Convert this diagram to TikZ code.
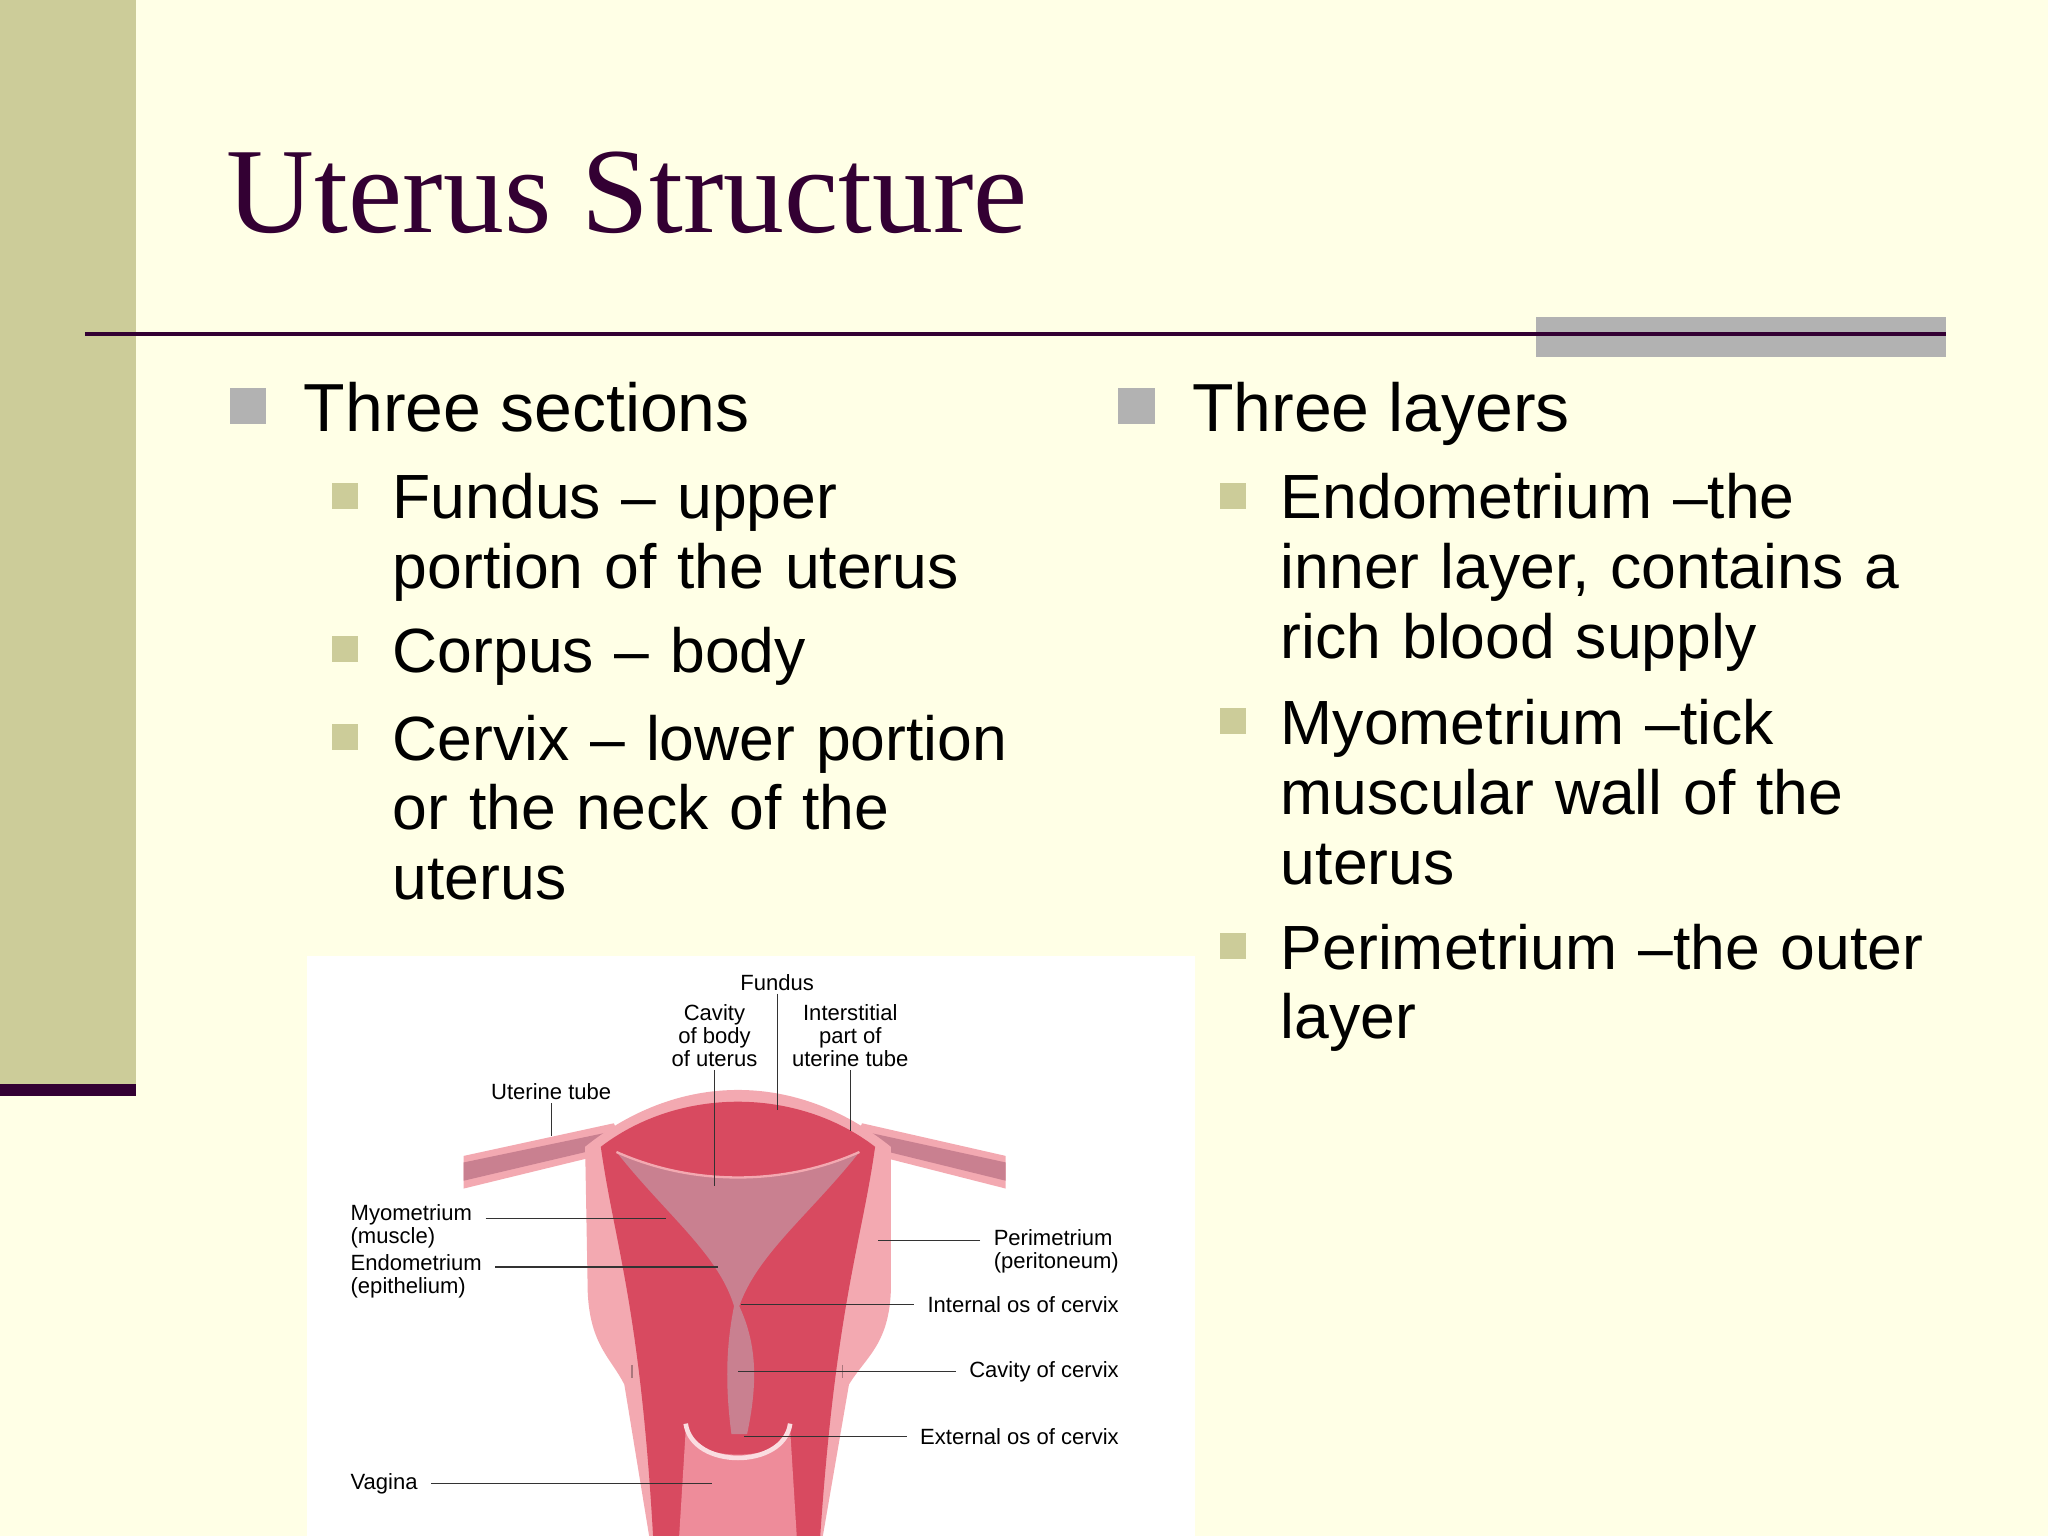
\documentclass[tikz,border=0pt]{standalone}
\usepackage{fontspec}
\setmainfont{Liberation Sans}
\newfontfamily\titlefont{Liberation Serif}
\definecolor{bg}{HTML}{FFFFE6}
\definecolor{olive}{HTML}{CCCC99}
\definecolor{plum}{HTML}{330033}
\definecolor{pgray}{HTML}{B2B2B2}
\definecolor{peri}{HTML}{F3A9B1}
\definecolor{myo}{HTML}{D84A60}
\definecolor{cav}{HTML}{C98090}
\definecolor{vag}{HTML}{EE8C9A}
\begin{document}
\begin{tikzpicture}[x=0.01cm,y=-0.01cm,
  big/.style={anchor=base west,font=\fontsize{14.8}{18}\selectfont,inner sep=0},
  sub/.style={anchor=base west,font=\fontsize{13.6}{15.2}\selectfont,inner sep=0,align=left,text width=5cm},
  lab/.style={font=\fontsize{4.8}{5}\selectfont,inner sep=0.5pt,align=center},
  ll/.style={draw=black!80,line width=0.25pt}]
\useasboundingbox (0,0) rectangle (1568,1176);
\fill[bg] (0,0) rectangle (1568,1176);
\fill[olive] (0,0) rectangle (104,834);
\fill[plum] (0,830) rectangle (104,839);
\fill[pgray] (1176,243) rectangle (1490,273);
\draw[plum,line width=0.9pt] (65,256) -- (1490,256);
\node[anchor=base west,inner sep=0,text=plum,font=\titlefont\fontsize{26.5}{30}\selectfont] (title) at (173,178) {Uterus Structure};
% left column
\fill[pgray] (176,297) rectangle (204,325);
\node[big] (t1) at (232,330) {Three sections};
\foreach \y in {370,487,554} \fill[olive] (254,\y) rectangle (274,\y+20);
\node[sub] (s1) at (300,397) {Fundus – upper\\portion of the uterus};
\node[sub] (s2) at (300,515) {Corpus – body};
\node[sub] (s3) at (300,582) {Cervix – lower portion\\or the neck of the\\uterus};
% right column
\fill[pgray] (856,297) rectangle (884,325);
\node[big] (t2) at (912,330) {Three layers};
\foreach \y in {370,542,714} \fill[olive] (934,\y) rectangle (954,\y+20);
\node[sub,text width=6cm] (r1) at (980,397) {Endometrium –the\\inner layer, contains a\\rich blood supply};
\node[sub,text width=6cm] (r2) at (980,570) {Myometrium –tick\\muscular wall of the\\uterus};
\node[sub,text width=6cm] (r3) at (980,742) {Perimetrium –the outer\\layer};
% diagram panel
\fill[white] (235,732) rectangle (915,1176);
% tubes
\fill[peri] (355,885) -- (470,860) -- (478,880) -- (355,910) -- cycle;
\fill[cav] (355,890) -- (470,866) -- (474,876) -- (355,904) -- cycle;
\fill[peri] (770,885) -- (660,860) -- (652,880) -- (770,910) -- cycle;
\fill[cav] (770,890) -- (660,866) -- (656,876) -- (770,904) -- cycle;
% outer body
\fill[peri] (448,878) .. controls (520,820) and (610,820) .. (682,878)
  -- (682,990) .. controls (680,1030) and (662,1040) .. (650,1060) -- (630,1176) -- (497,1176) -- (478,1060)
  .. controls (468,1040) and (452,1030) .. (450,990) -- cycle;
\draw[peri!70!black,line width=0.3pt] (484,1045) -- (484,1055) (645,1045) -- (645,1055);
% myometrium
\fill[myo] (460,878) .. controls (520,832) and (610,832) .. (670,878)
  .. controls (660,950) and (640,1000) .. (628,1176) -- (500,1176)
  .. controls (490,1000) and (470,950) .. cycle;
% cavity
\fill[cav] (472,882) .. controls (530,908) and (600,908) .. (658,882)
  .. controls (620,930) and (580,960) .. (566,1000)
  .. controls (580,1030) and (580,1060) .. (572,1098) -- (560,1098)
  .. controls (555,1060) and (556,1030) .. (562,1000)
  .. controls (550,960) and (510,930) .. cycle;
\draw[peri,line width=0.5pt] (472,882) .. controls (530,908) and (600,908) .. (658,882);
% vagina
\fill[vag] (525,1095) .. controls (530,1120) and (600,1120) .. (605,1095) -- (610,1176) -- (520,1176) -- cycle;
\draw[white!70!vag,line width=1pt] (525,1090) .. controls (530,1125) and (600,1125) .. (605,1090);
% labels
\node[lab] (fun) at (595,752) {Fundus};
\node[lab] (cob) at (547,793) {Cavity\\of body\\of uterus};
\node[lab] (ipt) at (651,793) {Interstitial\\part of\\uterine tube};
\node[lab] (ut) at (422,836) {Uterine tube};
\node[lab,anchor=west,align=left] (myl) at (266,939) {Myometrium\\(muscle)};
\node[lab,anchor=west,align=left] (enl) at (266,977) {Endometrium\\(epithelium)};
\node[lab,anchor=east,align=left] (pel) at (859,958) {Perimetrium\\(peritoneum)};
\node[lab,anchor=east] (iol) at (859,999) {Internal os of cervix};
\node[lab,anchor=east] (ccl) at (859,1050) {Cavity of cervix};
\node[lab,anchor=east] (eol) at (859,1100) {External os of cervix};
\node[lab,anchor=west] (val) at (266,1136) {Vagina};
\coordinate (pfun) at (595,850);
\coordinate (pcob) at (547,908);
\coordinate (pipt) at (651,866);
\coordinate (put) at (422,870);
\coordinate (pmy) at (510,933);
\coordinate (pen) at (550,970);
\coordinate (ppe) at (672,950);
\coordinate (pio) at (567,999);
\coordinate (pcc) at (565,1050);
\coordinate (peo) at (570,1100);
\coordinate (pva) at (545,1136);
\draw[ll] (fun.south) -- (pfun);
\draw[ll] (cob.south) -- (pcob);
\draw[ll] (ipt.south) -- (pipt);
\draw[ll] (ut.south) -- (put);
\draw[ll] (myl.east|-pmy) ++(8,0) -- (pmy);
\draw[ll] (enl.east|-pen) ++(8,0) -- (pen);
\draw[ll] (pel.west|-ppe) ++(-8,0) -- (ppe);
\draw[ll] (iol.west) ++(-8,0) -- (pio);
\draw[ll] (ccl.west) ++(-8,0) -- (pcc);
\draw[ll] (eol.west) ++(-8,0) -- (peo);
\draw[ll] (val.east) ++(8,0) -- (pva);
\end{tikzpicture}
\end{document}
